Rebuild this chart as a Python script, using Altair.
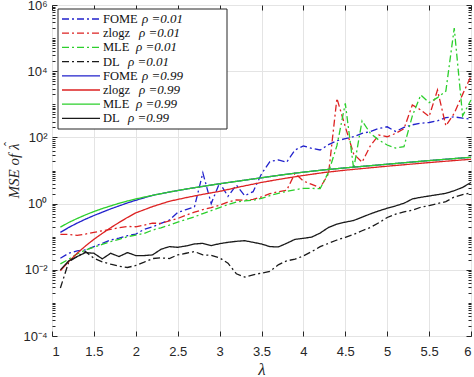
import altair as alt
import pandas as pd

# ---------------- data (log10 of MSE) ----------------
lam = [1.1, 1.2, 1.3, 1.4, 1.5, 1.6, 1.7, 1.8, 1.9, 2.0,
       2.1, 2.2, 2.3, 2.4, 2.5, 2.6, 2.7, 2.8, 2.9, 3.0,
       3.1, 3.2, 3.3, 3.4, 3.5, 3.6, 3.7, 3.8, 3.9, 4.0,
       4.1, 4.2, 4.3, 4.4, 4.5, 4.6, 4.7, 4.8, 4.9, 5.0,
       5.1, 5.2, 5.3, 5.4, 5.5, 5.6, 5.7, 5.8, 5.9, 6.0]

fome_001 = [-1.65, -1.50, -1.43, -1.40, -1.30, -1.20, -1.10, -1.04, -0.97, -0.92,
            -0.78, -0.70, -0.60, -0.50, -0.27, -0.18, -0.10, 0.93, 0.00, 0.63,
            0.22, 0.56, 0.24, 0.36, 0.90, 1.27, 1.32, 1.25, 1.62, 1.74,
            1.67, 1.62, 1.78, 1.90, 1.96, 2.02, 2.12, 2.18, 2.27, 2.32,
            2.18, 2.30, 2.38, 2.43, 2.45, 2.50, 2.60, 2.62, 2.58, 2.55]

zlogz_001 = [-0.93, -0.93, -0.96, -0.92, -0.87, -0.82, -0.78, -0.73, -0.69, -0.70,
             -0.65, -0.59, -0.60, -0.52, -0.45, -0.35, -0.26, -0.18, -0.12, -0.05,
             0.05, 0.11, 0.10, 0.13, 0.20, 0.30, 0.36, 0.40, 0.92, 0.68,
             0.58, 0.48, 0.90, 3.18, 2.32, 1.50, 1.25, 1.75, 2.07, 2.02,
             2.12, 2.26, 2.98, 2.83, 2.63, 3.43, 2.35, 2.73, 3.30, 3.85]

mle_001 = [-1.82, -1.68, -1.52, -1.40, -1.32, -1.23, -1.15, -1.08, -1.00, -0.95,
           -0.90, -0.80, -0.73, -0.65, -0.56, -0.48, -0.40, -0.30, -0.21, -0.12,
           -0.03, 0.05, 0.08, 0.10, 0.16, 0.24, 0.31, 0.37, 0.42, 0.46,
           0.46, 0.45, 0.95, 1.75, 3.03, 1.05, 2.50, 2.12, 1.92, 1.77,
           1.68, 1.72, 2.65, 3.28, 3.05, 3.20, 3.40, 5.30, 2.65, 3.13]

dl_001 = [-2.55, -1.76, -1.60, -1.45, -1.65, -1.76, -1.83, -1.89, -1.93, -1.87,
          -1.77, -1.66, -1.64, -1.66, -1.55, -1.50, -1.45, -1.55, -1.56, -1.64,
          -1.80, -2.12, -2.22, -2.15, -2.10, -2.05, -1.85, -1.73, -1.68, -1.58,
          -1.45, -1.30, -1.20, -1.10, -1.02, -0.93, -0.82, -0.72, -0.58, -0.42,
          -0.32, -0.25, -0.20, -0.11, -0.06, 0.00, 0.06, 0.20, 0.27, 0.33]

dl_099 = [-2.00, -1.73, -1.60, -1.48, -1.50, -1.67, -1.50, -1.60, -1.48, -1.57,
          -1.57, -1.55, -1.38, -1.30, -1.32, -1.28, -1.22, -1.20, -1.27, -1.21,
          -1.17, -1.14, -1.12, -1.17, -1.22, -1.30, -1.31, -1.20, -1.08, -1.05,
          -1.01, -0.89, -0.72, -0.62, -0.56, -0.51, -0.41, -0.31, -0.22, -0.14,
          -0.07, 0.01, 0.14, 0.19, 0.23, 0.27, 0.31, 0.39, 0.49, 0.64]

lam_s = [1.1, 1.2, 1.3, 1.4, 1.5, 1.6, 1.7, 1.8, 1.9, 2.0, 2.2, 2.4,
         2.6, 2.8, 3.0, 3.25, 3.5, 3.75, 4.0, 4.25, 4.5, 5.0, 5.5, 6.0]

fome_099 = [-0.87, -0.72, -0.59, -0.47, -0.36, -0.26, -0.16, -0.07, 0.02, 0.10, 0.25, 0.35,
            0.44, 0.52, 0.60, 0.69, 0.78, 0.87, 0.95, 1.02, 1.08, 1.19, 1.30, 1.40]
zlogz_099 = [-2.03, -1.75, -1.50, -1.28, -1.08, -0.90, -0.73, -0.57, -0.42, -0.28, -0.09, 0.07,
             0.18, 0.28, 0.37, 0.51, 0.64, 0.75, 0.85, 0.94, 1.01, 1.13, 1.24, 1.34]
mle_099 = [-0.71, -0.57, -0.45, -0.34, -0.24, -0.15, -0.07, 0.01, 0.08, 0.14, 0.25, 0.35,
           0.44, 0.52, 0.60, 0.69, 0.78, 0.87, 0.95, 1.02, 1.08, 1.19, 1.30, 1.40]

series = ["FOME 0.01", "zlogz 0.01", "MLE 0.01", "DL 0.01",
          "FOME 0.99", "zlogz 0.99", "MLE 0.99", "DL 0.99"]
leg_names = ["FOME", "zlogz", "MLE", "DL", "FOME", "zlogz", "MLE", "DL"]
leg_rho = ["ρ =0.01", "ρ =0.01", "ρ =0.01", "ρ =0.01",
           "ρ =0.99", "ρ =0.99", "ρ =0.99", "ρ =0.99"]
colors = ["#2222cc", "#dd2222", "#2ccf2c", "#1a1a1a",
          "#2222cc", "#dd2222", "#2ccf2c", "#1a1a1a"]
DASHDOT = [7, 3, 2, 3]
SOLID = [1, 0]
dashes = [DASHDOT] * 4 + [SOLID] * 4

xs_list = [lam, lam, lam, lam, lam_s, lam_s, lam_s, lam]
ys_list = [fome_001, zlogz_001, mle_001, dl_001, fome_099, zlogz_099, mle_099, dl_099]

rows = []
for name, xs, ys in zip(series, xs_list, ys_list):
    for xv, ev in zip(xs, ys):
        rows.append({"lam": xv, "val": 10 ** ev, "series": name})
df = pd.DataFrame(rows)

x_ticks = [1, 1.5, 2, 2.5, 3, 3.5, 4, 4.5, 5, 5.5, 6]
y_major = [1e-4, 1e-2, 1e0, 1e2, 1e4, 1e6]
y_major_exp = [-4, -2, 0, 2, 4, 6]
y_labels = ["10⁻⁴", "10⁻²", "10⁰", "10²", "10⁴", "10⁶"]
y_minor = [k * 10.0 ** e for e in range(-4, 6) for k in range(2, 11)
           if not (k == 10 and (e + 1) % 2 == 0)]

# ---------------- layout ----------------
W, H = 419, 331
FRAME = "#262626"
SANS = "Liberation Sans"
SERIF = "Liberation Serif"

label_expr = "''"
for ex, lb in reversed(list(zip(y_major_exp, y_labels))):
    label_expr = f"abs(log(datum.value)/LN10 - ({ex})) < 0.01 ? '{lb}' : " + label_expr

xsc = alt.Scale(domain=[1, 6], nice=False, zero=False)
ysc = alt.Scale(type="log", domain=[1e-4, 1e6], nice=False)

lines = alt.Chart(df).mark_line(strokeWidth=1.3).encode(
    x=alt.X("lam:Q", scale=xsc, axis=alt.Axis(
        orient="bottom", values=x_ticks, format="~g", grid=True, gridColor="#e4e4e4",
        ticks=False, tickSize=0, domain=False, labelPadding=9, labelFont=SANS,
        labelFontSize=13, labelColor=FRAME, title="λ", titleFont=SERIF,
        titleFontStyle="italic", titleFontWeight="normal", titleFontSize=17,
        titleColor=FRAME, titlePadding=3)),
    y=alt.Y("val:Q", scale=ysc, axis=alt.Axis(
        orient="left", values=y_major, labelExpr=label_expr, grid=True,
        gridColor="#e4e4e4", ticks=False, tickSize=0, domain=False, labelPadding=5,
        labelFont=SANS, labelFontSize=13, labelColor=FRAME, title="MSE of λ",
        titleFont=SERIF, titleFontStyle="italic", titleFontWeight="normal",
        titleFontSize=15, titleColor=FRAME, titleX=-39, titleY=H / 2,
        titleAlign="center", titleBaseline="middle", titleAngle=270)),
    color=alt.Color("series:N", scale=alt.Scale(domain=series, range=colors), legend=None),
    strokeDash=alt.StrokeDash("series:N", scale=alt.Scale(domain=series, range=dashes),
                              legend=None),
)


def tick_layer(x_orient, y_orient, yvals, ysize, with_x=True):
    xax = alt.Axis(orient=x_orient, offset=-H, values=x_ticks, labels=False, grid=False,
                   domain=False, tickSize=5, tickColor=FRAME, title=None) if with_x else None
    yax = alt.Axis(orient=y_orient, offset=-W, values=yvals, labels=False, grid=False,
                   domain=False, tickSize=ysize, tickColor=FRAME, title=None)
    return alt.Chart(df).mark_line(strokeOpacity=0).encode(
        x=alt.X("lam:Q", scale=xsc, axis=xax),
        y=alt.Y("val:Q", scale=ysc, axis=yax),
        detail="series:N",
    )


t1 = tick_layer("top", "right", y_major, 5)
t2 = tick_layer("bottom", "left", y_major, 5)
t3 = tick_layer("top", "right", y_minor, 3, with_x=False)
t4 = tick_layer("top", "left", y_minor, 3, with_x=False)

dummy = pd.DataFrame({"a": [0]})

# hat over the lambda of the y title
hat = alt.Chart(dummy).mark_text(
    text="ˆ", font=SERIF, fontSize=12, angle=270, align="center", baseline="middle",
    color=FRAME
).encode(x=alt.value(-43), y=alt.value(139))

# ---------------- legend (drawn inside the plot, top-left) ----------------
legend_layers = [
    alt.Chart(dummy).mark_rect(fill="white", stroke=FRAME, strokeWidth=1).encode(
        x=alt.value(6), x2=alt.value(175), y=alt.value(4), y2=alt.value(124))
]
rho_x = [90, 87, 84, 76, 90, 87, 84, 76]
for i in range(len(series)):
    yy = 14 + 14.2 * i
    legend_layers.append(
        alt.Chart(dummy).mark_rule(color=colors[i], strokeDash=dashes[i], strokeWidth=1.3)
        .encode(x=alt.value(10), x2=alt.value(48), y=alt.value(yy)))
    legend_layers.append(
        alt.Chart(dummy).mark_text(align="left", baseline="middle", font=SERIF, fontSize=12.5,
                                   color="#111111")
        .encode(x=alt.value(51), y=alt.value(yy), text=alt.value(leg_names[i])))
    legend_layers.append(
        alt.Chart(dummy).mark_text(align="left", baseline="middle", font=SERIF, fontSize=13,
                                   fontStyle="italic", color="#111111")
        .encode(x=alt.value(rho_x[i]), y=alt.value(yy), text=alt.value(leg_rho[i])))

chart = alt.layer(lines, t1, t2, t3, t4, hat, *legend_layers).resolve_axis(
    x="independent", y="independent"
).properties(
    width=W, height=H,
    padding={"left": 52, "top": 5, "right": 3, "bottom": 41},
    autosize=alt.AutoSizeParams(type="none"),
    background="white",
).configure_view(stroke=FRAME, strokeWidth=1)

chart.save("out.html", embed_options={"renderer": "svg", "actions": False})
